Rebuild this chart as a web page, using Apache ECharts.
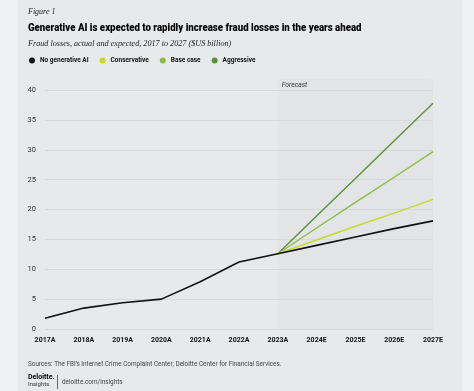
<!DOCTYPE html>
<html><head><meta charset="utf-8">
<script src="https://cdn.jsdelivr.net/npm/echarts@6/dist/echarts.min.js"></script>
<style>html,body{margin:0;padding:0;background:#eef0f1;}#c{width:474px;height:391px;}</style>
</head><body><div id="c"></div>
<script>
const categories = ['2017A','2018A','2019A','2020A','2021A','2022A','2023A','2024E','2025E','2026E','2027E'];
const noGenAI = [1.8, 3.5, 4.4, 5.0, 7.9, 11.2, 12.6, 14.0, 15.4, 16.8, 18.1];
const conservative = ['-','-','-','-','-','-', 12.6, 14.9, 17.2, 19.4, 21.7];
const baseCase = ['-','-','-','-','-','-', 12.6, 16.9, 21.2, 25.4, 29.7];
const aggressive = ['-','-','-','-','-','-', 12.6, 18.9, 25.2, 31.5, 37.8];
const yTicks = [0, 5, 10, 15, 20, 25, 30, 35, 40];
const forecastStart = '2023A', forecastEnd = '2027E';

const SANS = 'Roboto,"Liberation Sans",sans-serif';
const SERIF = '"Liberation Serif","DejaVu Serif",serif';
const colors = {black:'#111111', cons:'#c6d92f', base:'#8cbd47', aggr:'#5a9139'};

const chart = echarts.init(document.getElementById('c'), null, {renderer:'canvas'});
const opt = {
  backgroundColor: 'transparent',
  animation: false,
  grid: {left: 45, right: 41, top: 90, bottom: 62, containLabel: false},
  legend: {
    left: 29, top: 57, padding: 0, icon: 'circle', itemWidth: 6, itemHeight: 6, itemGap: 11,
    data: ['No generative AI','Conservative','Base case','Aggressive'],
    textStyle: {fontFamily: SANS, fontWeight: 'bold', fontSize: 6.5, color: '#111'}
  },
  xAxis: {
    type: 'category', data: categories, boundaryGap: false,
    axisLine: {show: false}, axisTick: {show: false},
    axisLabel: {fontFamily: SANS, fontWeight: 'bold', fontSize: 7, color: '#111', margin: 8, interval: 0}
  },
  yAxis: {
    type: 'value', min: yTicks[0], max: yTicks[yTicks.length-1], interval: 5,
    axisLine: {show: false}, axisTick: {show: false},
    axisLabel: {fontFamily: SANS, fontSize: 7.5, color: '#333', margin: 9},
    splitLine: {lineStyle: {color: '#d8d9db', width: 1}}
  },
  series: [
    {name:'Aggressive', type:'line', data: aggressive, symbol:'none', color: colors.aggr, lineStyle:{width:1.4, color: colors.aggr}, z:2},
    {name:'Base case', type:'line', data: baseCase, symbol:'none', color: colors.base, lineStyle:{width:1.4, color: colors.base}, z:3},
    {name:'Conservative', type:'line', data: conservative, symbol:'none', color: colors.cons, lineStyle:{width:1.4, color: colors.cons}, z:4},
    {name:'No generative AI', type:'line', data: noGenAI, symbol:'none', color: colors.black, lineStyle:{width:1.6, color: colors.black}, z:5}
  ]
};
chart.setOption(opt);

const p1 = chart.convertToPixel({gridIndex:0}, [forecastStart, 41.8]);
const p2 = chart.convertToPixel({gridIndex:0}, [forecastEnd, 0]);

chart.setOption({
  graphic: [
    {type:'rect', z:-10, silent:true, shape:{x:18, y:0, width:444, height:391}, style:{fill:'#e8e9eb'}},
    {type:'rect', z:-9, silent:true, shape:{x:p1[0], y:p1[1], width:p2[0]-p1[0], height:p2[1]-p1[1], r:[0,4,0,0]}, style:{fill:'#e3e4e6'}},
    {type:'text', z:10, x: p1[0]+4, y: p1[1]+2, scaleX:0.9, style:{text:'Forecast', font:'italic 7.5px ' + SANS, fill:'#333'}},
    {type:'text', x:28, y:8, style:{text:'Figure 1', font:'italic 8px ' + SERIF, fill:'#222'}},
    {type:'text', x:28, y:23, scaleX:0.88, style:{text:'Generative AI is expected to rapidly increase fraud losses in the years ahead', font:'900 11px ' + SANS, fill:'#000'}},
    {type:'text', x:28, y:39, scaleX:0.96, style:{text:'Fraud losses, actual and expected, 2017 to 2027 ($US billion)', font:'italic 8.5px ' + SERIF, fill:'#222'}},
    {type:'text', x:28, y:361, scaleX:0.91, style:{text:"Sources: The FBI's Internet Crime Complaint Center; Deloitte Center for Financial Services.", font:'7px ' + SANS, fill:'#444'}},
    {type:'text', x:28, y:374, style:{text:'Deloitte.', font:'bold 7px ' + SANS, fill:'#000'}},
    {type:'text', x:28, y:381, style:{text:'Insights', font:'6px ' + SANS, fill:'#333'}},
    {type:'line', shape:{x1:57.5, y1:375, x2:57.5, y2:389}, style:{stroke:'#444', lineWidth:0.8}},
    {type:'text', x:62, y:378, scaleX:0.85, style:{text:'deloitte.com/insights', font:'7.5px ' + SANS, fill:'#444'}}
  ]
});
</script></body></html>
